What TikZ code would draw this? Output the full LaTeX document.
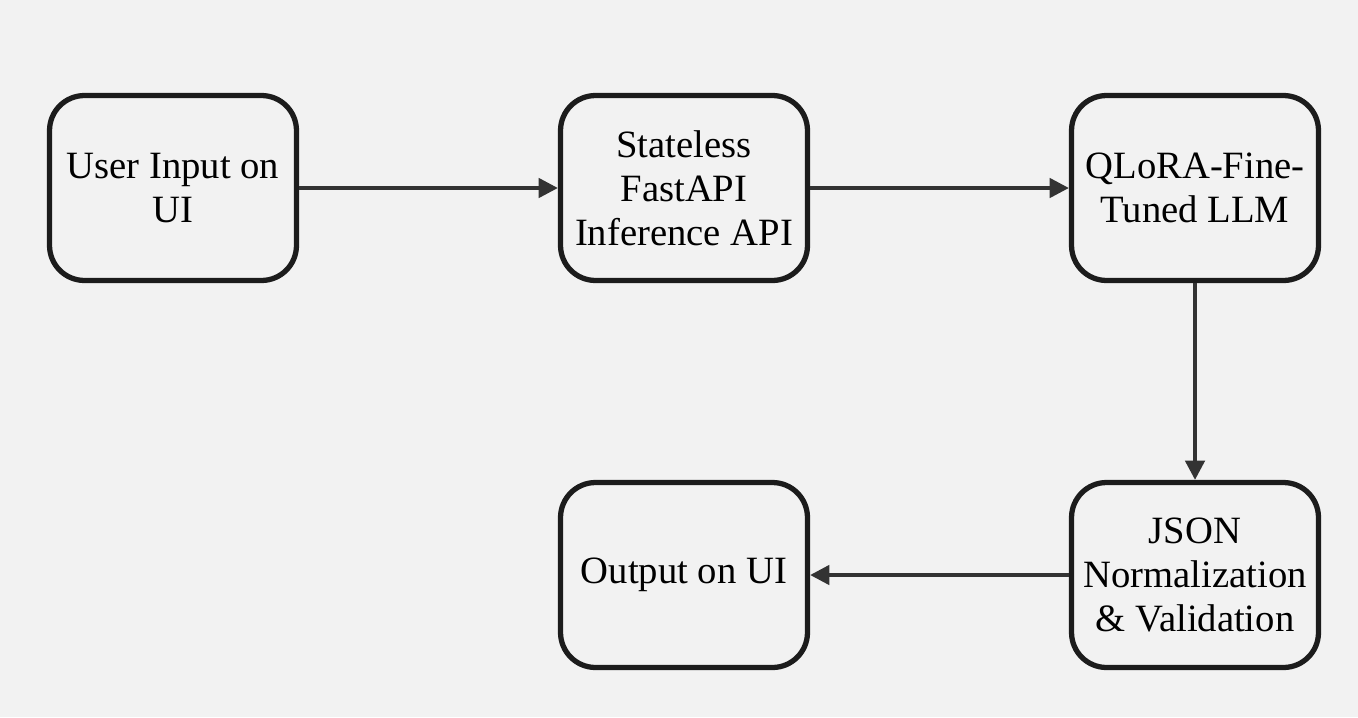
\documentclass[tikz,border=0pt]{standalone}
\usepackage{fontspec}
\setmainfont{Liberation Serif}
\usetikzlibrary{arrows.meta}
\definecolor{bggray}{HTML}{F2F2F2}
\definecolor{boxline}{HTML}{1C1C1C}
\definecolor{arrowgray}{HTML}{333333}
\begin{document}
\begin{tikzpicture}[
  x=0.02cm, y=-0.02cm,
  stage/.style={rectangle, rounded corners=0.7cm, draw=boxline, fill=bggray,
    line width=3pt, minimum width=4.94cm, minimum height=3.7cm,
    align=center, inner sep=0pt,
    font=\fontsize{22}{25}\selectfont},
  flow/.style={draw=arrowgray, line width=2.2pt, -{Triangle[length=11pt, width=11pt]}}
]
\fill[bggray] (0,0) rectangle (1358,717);
\node[stage] (input) at (173,188) {User Input on\\UI};
\node[stage] (api) at (684,188) {Stateless\\FastAPI\\Inference API};
\node[stage] (llm) at (1195,188) {QLoRA-Fine-\\Tuned LLM};
\node[stage] (json) at (1195,575) {JSON\\Normalization\\\& Validation};
\node[stage] (output) at (684,575) {Output on UI};
% main path
\draw[flow] (input) -- (api);
\draw[flow] (api) -- (llm);
\draw[flow] (llm) -- (json);
\draw[flow] (json) -- (output);
\end{tikzpicture}
\end{document}
